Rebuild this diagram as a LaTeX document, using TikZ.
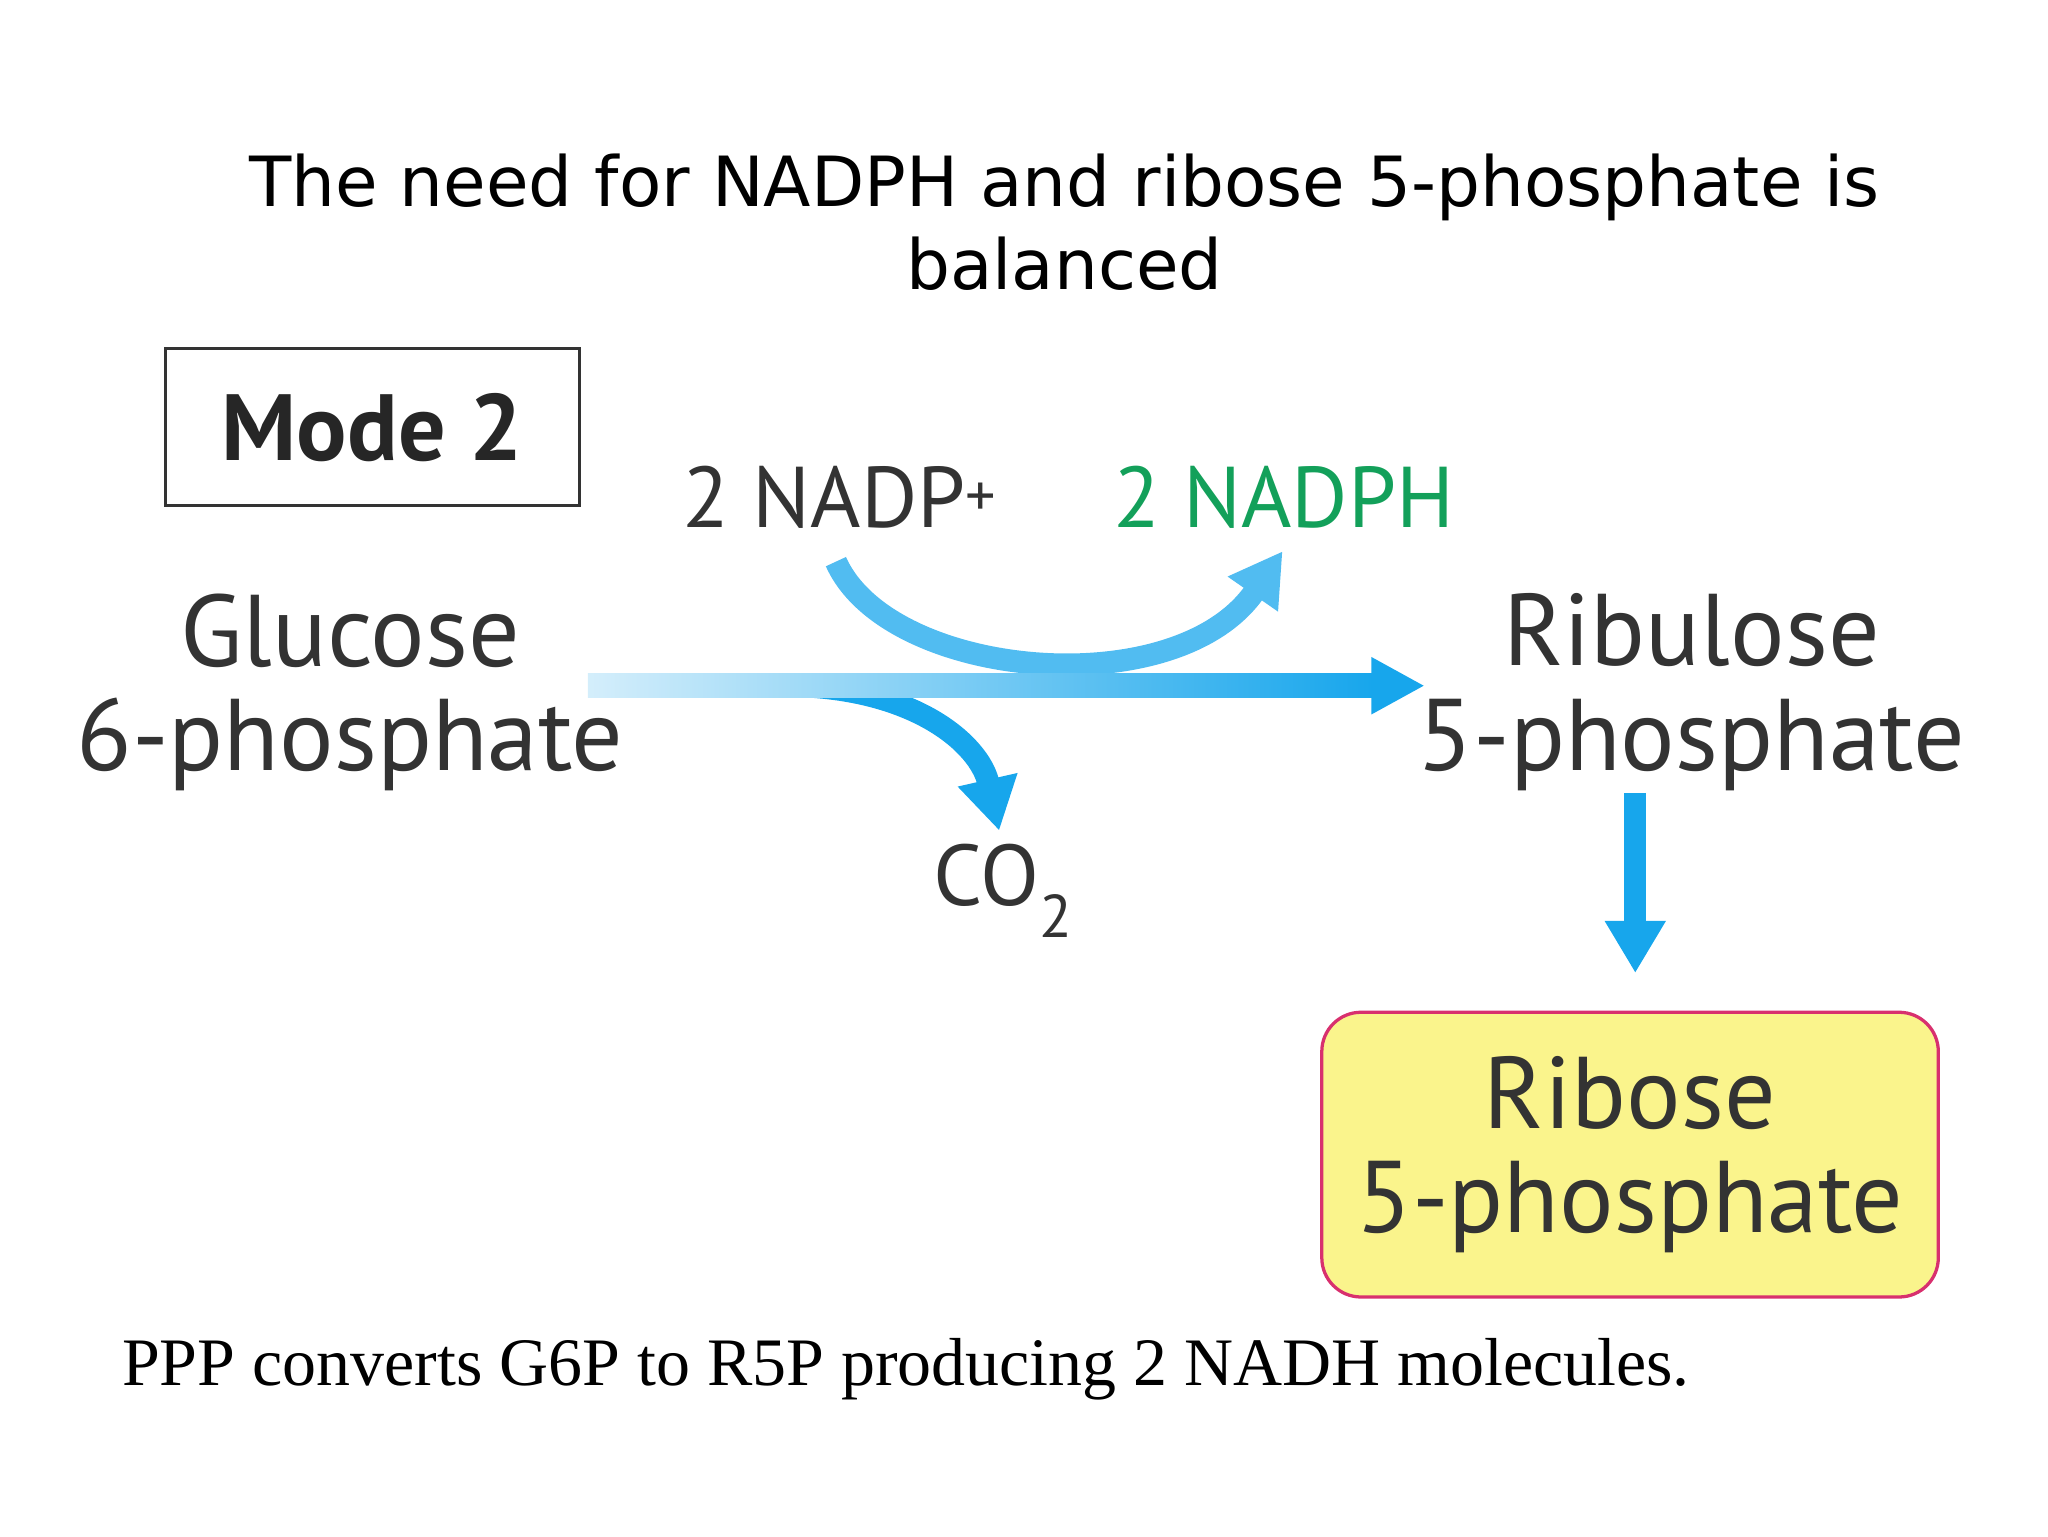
\documentclass[tikz,border=0pt]{standalone}
\usepackage{fontspec}
\setmainfont{DejaVu Sans}
\newfontfamily\dia{PT Sans}
\newfontfamily\ser{Liberation Serif}
\usetikzlibrary{arrows.meta}
\definecolor{arrblue}{HTML}{17A6EC}
\definecolor{lightblue}{HTML}{D4EEFB}
\definecolor{nadgreen}{HTML}{13A05A}
\definecolor{boxyellow}{HTML}{FAF48C}
\definecolor{boxpink}{HTML}{D8306E}
\tikzset{
  lab/.style={font=\dia\fontsize{78}{80}\selectfont, text=black!80, align=center},
  flow/.style={draw=arrblue, line width=17pt, -{Triangle[length=40pt,width=44pt]}},
}
\begin{document}
\begin{tikzpicture}[x=1pt,y=-1pt]
\useasboundingbox (0,0) rectangle (1568,1176);
\node[font=\fontsize{53}{63}\selectfont, align=center] (title) at (815,170) {The need for NADPH and ribose 5-phosphate is\\balanced};
\node[draw=black!80, line width=2pt, minimum width=317pt, minimum height=120pt, font=\dia\bfseries\fontsize{72}{74}\selectfont, text=black!85] (mode) at (285,327) {Mode 2};
\node[font=\dia\fontsize{66}{70}\selectfont, text=black!80] (nadp) at (643,381) {2 NADP\textsuperscript{+}};
\node[font=\dia\fontsize{66}{70}\selectfont, text=nadgreen] (nadph) at (983,381) {2 NADPH};
\node[lab] (g6p) at (268,530) {Glucose\\6-phosphate};
\node[lab] (ru5p) at (1295,530) {Ribulose\\5-phosphate};
\node[font=\dia\fontsize{66}{70}\selectfont, text=black!80] (co2) at (768,682) {CO\textsubscript{2}};
\node[draw=boxpink, line width=2.5pt, fill=boxyellow, rounded corners=30pt, minimum width=472pt, minimum height=218pt, lab] (r5p) at (1248,884) {Ribose\\5-phosphate};
% NADP curve
\coordinate (ns) at (640,430);
\coordinate (ne) at (982,422);
\draw[flow, draw=arrblue!75] (ns) .. controls (680,520) and (900,540) .. (ne);
% CO2 curve
\coordinate (cs) at (600,525);
\coordinate (ce) at (765,636);
\draw[flow] (cs) .. controls (700,525) and (750,570) .. (ce);
% main arrow
\coordinate (ms) at (450,525);
\coordinate (me) at (1090,525);
\shade[left color=lightblue, right color=arrblue] (450,516) rectangle (1052,534);
\fill[arrblue] (1050,503) -- (me) -- (1050,547) -- cycle;
% vertical
\coordinate (vs) at (1252,607);
\draw[flow] (vs) -- (1252,745);
\node[font=\ser\fontsize{52}{60}\selectfont, anchor=west] (foot) at (90,1048) {PPP converts G6P to R5P producing 2 NADH molecules.};
\end{tikzpicture}
\end{document}
